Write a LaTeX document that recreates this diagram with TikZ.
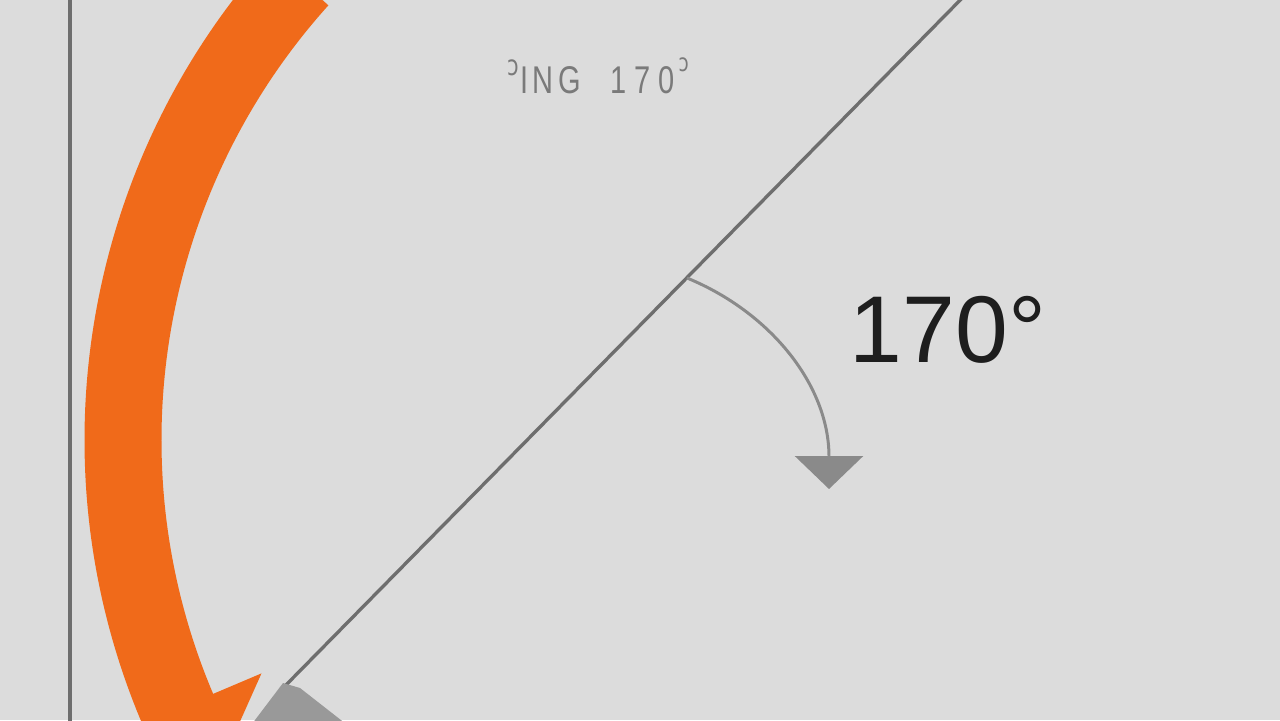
\documentclass[tikz,border=0pt]{standalone}
\usepackage{fontspec}
\setmainfont{Liberation Sans}
\newfontfamily\ipafont{DejaVu Sans}
\usetikzlibrary{arrows.meta}

\definecolor{bgGray}{HTML}{DCDCDC}
\definecolor{lineGray}{HTML}{6E6E6E}
\definecolor{arcGray}{HTML}{8A8A8A}
\definecolor{tipGray}{HTML}{999999}
\definecolor{turnOrange}{HTML}{F06A1A}
\definecolor{labelGray}{HTML}{7A7A7A}
\definecolor{bigInk}{HTML}{1E1E1E}

\begin{document}
\begin{tikzpicture}[x=0.02cm,y=-0.02cm,
  axisline/.style={draw=lineGray,line width=1.9pt},
  turnarrow/.style={draw=turnOrange,line width=1.54cm,
    -{Triangle[length=1.7cm,width=3.54cm]}},
  anglearrow/.style={draw=arcGray,line width=1.7pt,
    -{Triangle[length=0.66cm,width=1.36cm]}},
  biglabel/.style={text=bigInk,font=\fontsize{54}{60}\selectfont,inner sep=0pt},
  smalllabel/.style={text=labelGray,font=\fontsize{22}{26}\selectfont,inner sep=0pt}]
\useasboundingbox (0,0) rectangle (1280,720);
\fill[bgGray] (0,0) rectangle (1280,720);
\clip (0,0) rectangle (1280,720);

% reference lines
\coordinate (vtop) at (70,-10);
\coordinate (vbot) at (70,730);
\coordinate (dtop) at (975,-15);
\coordinate (dbot) at (285,686);
\coordinate (o) at (687,278);
\draw[axisline] (vtop) -- (vbot);
\draw[axisline] (dtop) -- (dbot);

% gray tip at the foot of the diagonal
\fill[tipGray] (252,724) -- (283,683) -- (300,688) -- (346,724) -- cycle;

% orange turn, straight stub along the tangent for the tip
\coordinate (c) at (811,440);
\draw[turnarrow] ([shift={(222:688)}]c) arc (222:157:688) -- ++(33.2,78.3);

% angle arrow
\coordinate (aend) at (829,489);
\draw[anglearrow] (o) .. controls (770,312) and (829,385) .. (aend);

% labels
\node[biglabel] (deg) at (948,330) {170°};
\node[smalllabel,xscale=0.75] (cap) at (598,76)
  {\raisebox{0.9ex}{\ipafont\fontsize{16}{16}\selectfont ɔ}\hspace{1pt}I\,N\,G\hspace{22pt}1\;7\;0\hspace{3pt}\raisebox{1.1ex}{\ipafont\fontsize{14}{14}\selectfont ɔ}};
\end{tikzpicture}
\end{document}
